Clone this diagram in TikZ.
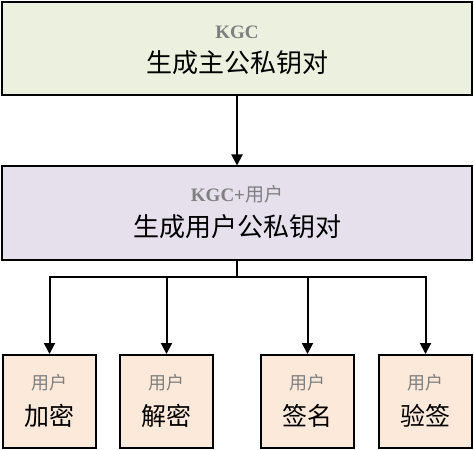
\documentclass[tikz,border=0pt]{standalone}
\usepackage{fontspec}
\setmainfont{Liberation Serif}
\newfontfamily\cjk{Noto Sans CJK SC}
\usetikzlibrary{arrows.meta}

\definecolor{kgcgreen}{HTML}{EBF1DE}
\definecolor{userlilac}{HTML}{E5E0EC}
\definecolor{oppeach}{HTML}{FDE9D9}
\definecolor{rolegray}{HTML}{7F7F7F}

\tikzset{
    box/.style={draw=black, line width=2bp, inner sep=0pt},
    role/.style={text=rolegray, font=\fontsize{19bp}{19bp}\selectfont\bfseries},
    task/.style={font=\fontsize{26bp}{26bp}\selectfont\cjk},
    oprole/.style={text=rolegray, font=\fontsize{18bp}{18bp}\selectfont\cjk},
    optask/.style={font=\fontsize{25bp}{25bp}\selectfont\cjk},
    link/.style={line width=2bp, -{Triangle[width=11bp,length=11bp]}}
}

\begin{document}
\begin{tikzpicture}[x=1bp, y=-1bp]
        \useasboundingbox (0,0) rectangle (474,450);
        % KGC
        \node[box, fill=kgcgreen, minimum width=470bp, minimum height=93bp] (kgc) at (237,48.5) {};
        \node[role] (kgc-role) at (237,32) {KGC};
        \node[task] (kgc-task) at (237,63) {生成主公私钥对};
        % KGC + user
        \node[box, fill=userlilac, minimum width=470bp, minimum height=93bp] (user) at (237,213) {};
        \node[role] (user-role) at (237,194) {KGC+{\cjk\mdseries 用户}};
        \node[task] (user-task) at (237,227) {生成用户公私钥对};
        % user operations
        \foreach \name/\x/\txt in {enc/49.5/加密, dec/166.5/解密, sig/307.5/签名, ver/425.5/验签} {
            \node[box, fill=oppeach, minimum width=93bp, minimum height=93bp] (\name) at (\x,401.5) {};
            \node[oprole] (\name-role) at (\x,383) {用户};
            \node[optask] (\name-task) at (\x,416) {\txt};
        }
        % connectors
        \coordinate (bus) at (237,277);
        \draw[link] (kgc) -- (user);
        \draw[line width=2bp] (user.south) -- (bus);
        \foreach \name in {enc, dec, sig, ver}
            \draw[link] (bus) -| (\name.north);
    \end{tikzpicture}
\end{document}
